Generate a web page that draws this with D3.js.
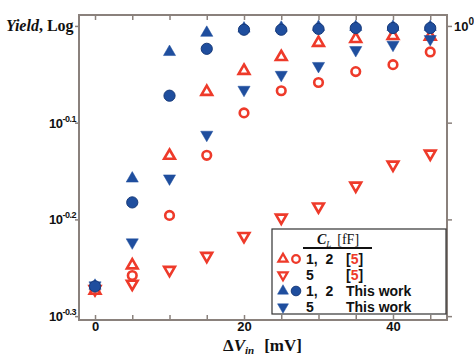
<!DOCTYPE html>
<html><head><meta charset="utf-8">
<script src="https://cdn.jsdelivr.net/npm/d3@7"></script>
<style>body{margin:0;background:#fff}svg{display:block}</style>
</head><body>
<svg id="c" width="474" height="360"></svg>
<script>
const xValues = [0,5,10,15,20,25,30,35,40,45];
const refUp     = [0.534,0.567,0.736,0.857,0.901,0.931,0.963,0.972,0.979,0.977];
const refCircle = [0.534,0.552,0.637,0.735,0.813,0.857,0.874,0.897,0.912,0.940];
const refDown   = [0.533,0.540,0.558,0.577,0.605,0.632,0.649,0.682,0.717,0.736];
const workUp     = [0.540,0.697,0.942,0.986,0.996,0.998,1.0,1.0,1.0,1.0];
const workCircle = [0.538,0.657,0.847,0.947,0.991,0.991,0.993,0.995,0.995,0.995];
const workDown   = [0.538,0.596,0.694,0.770,0.857,0.888,0.907,0.942,0.954,0.967];
const xTicks = [0,5,10,15,20,25,30,35,40,45];
const xTickLabels = [0,20,40];
const yTickExps = [-0.3,-0.2,-0.1,0];

const RED = "#ee3a2a", BLUE = "#1f4e9e", FRAME = "#8a817c";
const svg = d3.select("#c");
const L=79,R=447,T=15,B=320;
const x = d3.scaleLinear().domain([-2.15,47.25]).range([L,R]);
const y = d3.scaleLog().domain([Math.pow(10,-0.304),Math.pow(10,0.0113)]).range([B,T]);

// frame
svg.append("rect").attr("x",L).attr("y",T).attr("width",R-L).attr("height",B-T)
  .attr("fill","none").attr("stroke",FRAME).attr("stroke-width",2);

const fmtX = d => xTickLabels.includes(d) ? d : "";
const ax = svg.append("g").attr("transform",`translate(0,${B})`)
  .call(d3.axisBottom(x).tickValues(xTicks).tickSize(-5).tickPadding(2).tickFormat(fmtX));
const axT = svg.append("g").attr("transform",`translate(0,${T})`)
  .call(d3.axisTop(x).tickValues(xTicks).tickSize(-5).tickFormat(""));
const ay = svg.append("g").attr("transform",`translate(${L},0)`)
  .call(d3.axisLeft(y).tickValues(yTickExps.map(e=>Math.pow(10,e))).tickSize(4).tickFormat(""));
const ayR = svg.append("g").attr("transform",`translate(${R},0)`)
  .call(d3.axisRight(y).tickValues(yTickExps.map(e=>Math.pow(10,e))).tickSize(5).tickFormat(""));
[ax,axT,ay,ayR].forEach(g=>{
  g.select(".domain").remove();
  g.selectAll(".tick line").attr("stroke",FRAME).attr("stroke-width",1.5);
});
ax.selectAll(".tick text").attr("font-family","Liberation Sans, Arial, sans-serif")
  .attr("font-weight","bold").attr("font-size",13).attr("fill","#111");

// y tick labels with superscripts
yTickExps.forEach(e=>{
  const v = Math.pow(10,e);
  if(e===0){
    const t = svg.append("text").attr("x",R+7).attr("y",y(v)+5)
      .attr("font-family","Liberation Sans, Arial, sans-serif").attr("font-weight","bold")
      .attr("font-size",13).attr("fill","#111");
    t.append("tspan").text("10");
    t.append("tspan").attr("dy",-6).attr("font-size",10).text("0");
  } else {
    const t = svg.append("text").attr("x",L-3).attr("y",y(v)+5).attr("text-anchor","end")
      .attr("font-family","Liberation Sans, Arial, sans-serif").attr("font-weight","bold")
      .attr("font-size",13).attr("fill","#111").attr("letter-spacing",-0.5);
    t.append("tspan").text("10");
    t.append("tspan").attr("dy",-6).attr("font-size",9).text(String(e));
  }
});

// axis titles
const yt = svg.append("text").attr("x",6).attr("y",31)
  .attr("font-family","Liberation Serif, Times New Roman, serif").attr("font-weight","bold")
  .attr("font-size",16).attr("fill","#111");
yt.append("tspan").attr("font-style","italic").text("Yield");
yt.append("tspan").text(", Log");

const xt = svg.append("text").attr("x",223).attr("y",351)
  .attr("font-family","Liberation Serif, Times New Roman, serif").attr("font-weight","bold")
  .attr("font-size",17).attr("fill","#111");
xt.append("tspan").text("Δ");
xt.append("tspan").attr("font-style","italic").text("V");
xt.append("tspan").attr("font-style","italic").attr("font-size",11).attr("dy",3).text("in");
xt.append("tspan").attr("dy",-3).attr("dx",10).text("[mV]");

// markers
const tri = d3.symbol().type(d3.symbolTriangle);
function draw(vals, kind, open, color){
  const g = svg.append("g");
  vals.forEach((v,i)=>{
    const cx = x(xValues[i]), cy = y(v);
    if(kind==="circle"){
      g.append("circle").attr("cx",cx).attr("cy",cy).attr("r",open?4.3:5.6)
        .attr("fill",open?"none":color).attr("stroke",open?color:"#173a7a")
        .attr("stroke-width",open?2.6:1);
    } else {
      const rot = kind==="down"?180:0;
      g.append("path").attr("d",tri.size(open?50:64)())
        .attr("transform",`translate(${cx},${cy+(kind==="down"?-1:1)}) rotate(${rot})`)
        .attr("fill",open?"#fff":color).attr("stroke",color)
        .attr("stroke-width",open?2.6:0.5).attr("stroke-linejoin","miter");
    }
  });
}
draw(refDown,"down",true,RED);
draw(refCircle,"circle",true,RED);
draw(refUp,"up",true,RED);
draw(workDown,"down",false,BLUE);
draw(workUp,"up",false,BLUE);
draw(workCircle,"circle",false,BLUE);

// legend
const lg = svg.append("g");
lg.append("rect").attr("x",272).attr("y",229).attr("width",174).attr("height",85)
  .attr("fill","#fff").attr("stroke","#333").attr("stroke-width",1.2);
const h = lg.append("text").attr("x",338).attr("y",244).attr("text-anchor","middle")
  .attr("font-family","Liberation Serif, Times New Roman, serif").attr("font-size",14).attr("fill","#111");
h.append("tspan").attr("font-style","italic").attr("font-weight","bold").text("C");
h.append("tspan").attr("font-style","italic").attr("font-size",9).attr("dy",3).text("L");
h.append("tspan").attr("dy",-3).attr("dx",6).text("[fF]");
lg.append("line").attr("x1",303).attr("x2",372).attr("y1",248).attr("y2",248)
  .attr("stroke","#111").attr("stroke-width",2);
const rows = [
  {syms:[["up",true,RED],["circle",true,RED]], a:"1,  2", b:"[5]", ref:true},
  {syms:[["down",true,RED]], a:"5", b:"[5]", ref:true},
  {syms:[["up",false,BLUE],["circle",false,BLUE]], a:"1,  2", b:"This work", ref:false},
  {syms:[["down",false,BLUE]], a:"5", b:"This work", ref:false}
];
rows.forEach((r,i)=>{
  const cy = 259 + i*16;
  r.syms.forEach((s,j)=>{
    const cx = 283 + j*13;
    if(s[0]==="circle"){
      lg.append("circle").attr("cx",cx).attr("cy",cy).attr("r",s[1]?3.8:4.8)
        .attr("fill",s[1]?"none":s[2]).attr("stroke",s[1]?s[2]:"#173a7a").attr("stroke-width",s[1]?2.3:1);
    } else {
      lg.append("path").attr("d",tri.size(s[1]?36:52)())
        .attr("transform",`translate(${cx},${cy}) rotate(${s[0]==="down"?180:0})`)
        .attr("fill",s[1]?"#fff":s[2]).attr("stroke",s[2]).attr("stroke-width",s[1]?2.3:0.5);
    }
  });
  lg.append("text").attr("x",306).attr("y",cy+5).attr("font-family","Liberation Sans, Arial, sans-serif")
    .attr("font-weight","bold").attr("font-size",14).attr("fill","#111").attr("xml:space","preserve").text(r.a);
  const tb = lg.append("text").attr("x",346).attr("y",cy+5).attr("font-family","Liberation Sans, Arial, sans-serif")
    .attr("font-weight","bold").attr("font-size",14).attr("fill","#111");
  if(r.ref){
    tb.append("tspan").text("[");
    tb.append("tspan").attr("fill",RED).text("5");
    tb.append("tspan").text("]");
  } else tb.text(r.b);
});
</script>
</body></html>
